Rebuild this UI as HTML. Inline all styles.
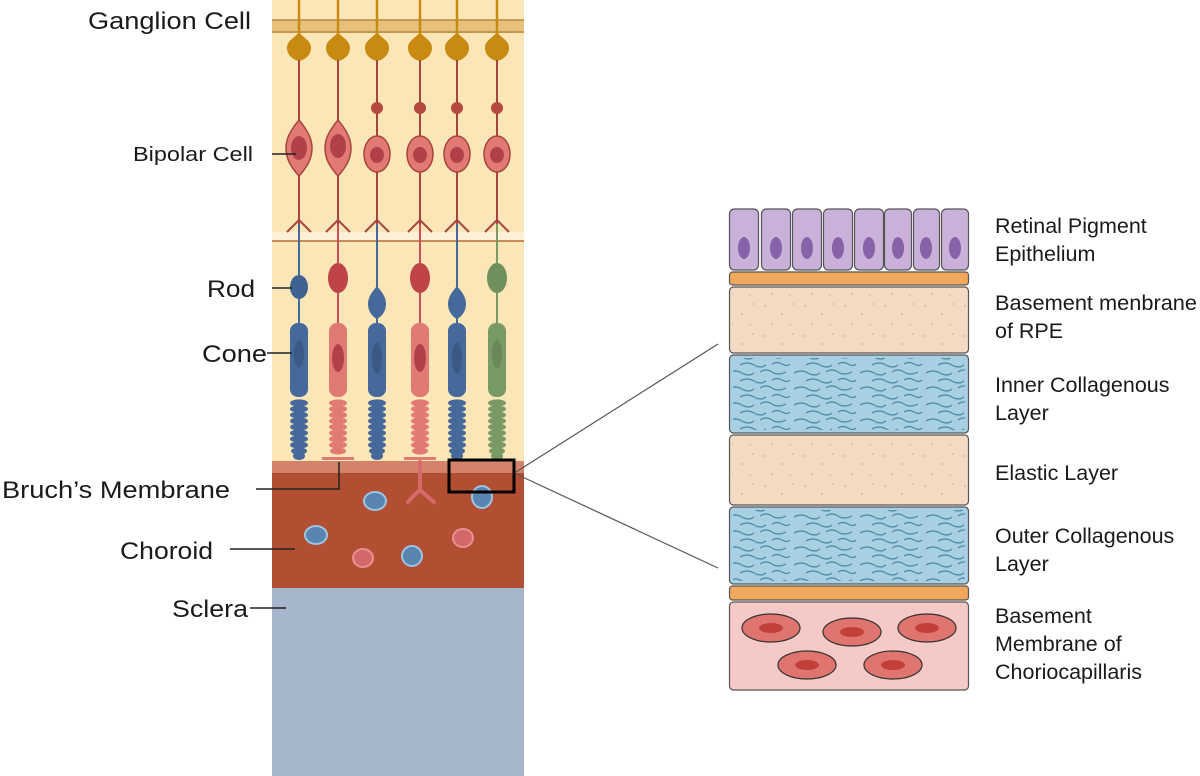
<!DOCTYPE html>
<html><head><meta charset="utf-8"><style>
html,body{margin:0;padding:0;background:#fff;}
svg{display:block;}
text{font-family:"Liberation Sans",Arial,sans-serif;fill:#1a1a1a;}
</style></head><body>
<svg width="1200" height="776" viewBox="0 0 1200 776" xmlns="http://www.w3.org/2000/svg">
<defs>
<pattern id="dots" width="40" height="30" patternUnits="userSpaceOnUse">
<circle cx="5" cy="6" r="1" fill="#d9b8a4"/><circle cx="22" cy="14" r="1" fill="#d9b8a4"/><circle cx="33" cy="4" r="0.9" fill="#d9b8a4"/><circle cx="12" cy="24" r="1" fill="#d9b8a4"/><circle cx="30" cy="25" r="0.9" fill="#d9b8a4"/>
</pattern>
<pattern id="waves" width="66" height="16" patternUnits="userSpaceOnUse">
<path d="M2 5 q7 -4 14 0 t12 0" stroke="#4689a6" stroke-width="1.2" fill="none"/>
<path d="M34 4 q6 -4 12 0 t14 0" stroke="#4689a6" stroke-width="1.2" fill="none"/>
<path d="M14 13 q7 -4 14 0 t12 0" stroke="#4689a6" stroke-width="1.2" fill="none"/>
<path d="M46 12 q5 -3 10 0 t8 0" stroke="#4689a6" stroke-width="1.2" fill="none"/>
</pattern>
</defs>

<rect x="272" y="0" width="252" height="462" fill="#fbe6b8"/>
<rect x="272" y="20" width="252" height="13" fill="#e8c27c"/>
<line x1="272" y1="20" x2="524" y2="20" stroke="#b88a3c" stroke-width="1.5"/>
<line x1="272" y1="32" x2="524" y2="32" stroke="#b88a3c" stroke-width="1.5"/>
<rect x="272" y="232" width="252" height="8" fill="#fdf0d6"/>
<line x1="272" y1="241" x2="524" y2="241" stroke="#b96a3a" stroke-width="1.5"/>
<rect x="272" y="461" width="252" height="12" fill="#d4826a"/>
<rect x="272" y="473" width="252" height="116" fill="#b24e32"/>
<rect x="272" y="588" width="252" height="188" fill="#a6b7cb"/>

<g stroke-width="2">
<ellipse cx="375" cy="501" rx="11" ry="9" fill="#5a85b0" stroke="#9cc4e4"/>
<ellipse cx="316" cy="535" rx="11" ry="9" fill="#5a85b0" stroke="#9cc4e4"/>
<ellipse cx="412" cy="556" rx="10" ry="10" fill="#5a85b0" stroke="#9cc4e4"/>
<ellipse cx="482" cy="497" rx="10" ry="11" fill="#5a85b0" stroke="#9cc4e4"/>
<ellipse cx="363" cy="558" rx="10" ry="9" fill="#d4676a" stroke="#e79090"/>
<ellipse cx="463" cy="538" rx="10" ry="9" fill="#d4676a" stroke="#e79090"/>
</g>
<path d="M420 462 V490 M420 490 Q412 497 408 502 M420 490 Q428 497 434 502" stroke="#d56a6a" stroke-width="4" fill="none" stroke-linecap="round"/>

<g fill="#c98a12" stroke="#c98a12">
<g stroke-width="2.5"><line x1="299" y1="0" x2="299" y2="40"/><line x1="338" y1="0" x2="338" y2="40"/><line x1="377" y1="0" x2="377" y2="40"/><line x1="420" y1="0" x2="420" y2="40"/><line x1="457" y1="0" x2="457" y2="40"/><line x1="497" y1="0" x2="497" y2="40"/></g>
<g stroke-width="0">
<path d="M299 32 C303 38 311 40 311 48 C311 55 305 60 299 61 C293 60 287 55 287 48 C287 40 295 38 299 32Z"/>
<path d="M338 32 C342 38 350 40 350 48 C350 55 344 60 338 61 C332 60 326 55 326 48 C326 40 334 38 338 32Z"/>
<path d="M377 32 C381 38 389 40 389 48 C389 55 383 60 377 61 C371 60 365 55 365 48 C365 40 373 38 377 32Z"/>
<path d="M420 32 C424 38 432 40 432 48 C432 55 426 60 420 61 C414 60 408 55 408 48 C408 40 416 38 420 32Z"/>
<path d="M457 32 C461 38 469 40 469 48 C469 55 463 60 457 61 C451 60 445 55 445 48 C445 40 453 38 457 32Z"/>
<path d="M497 32 C501 38 509 40 509 48 C509 55 503 60 497 61 C491 60 485 55 485 48 C485 40 493 38 497 32Z"/>
</g></g>

<g stroke="#a8443e" stroke-width="2" fill="none">
<line x1="299" y1="60" x2="299" y2="224"/><line x1="338" y1="60" x2="338" y2="224"/><line x1="377" y1="60" x2="377" y2="224"/><line x1="420" y1="60" x2="420" y2="224"/><line x1="457" y1="60" x2="457" y2="224"/><line x1="497" y1="60" x2="497" y2="224"/>
<path d="M287 232 L299 220 L311 232 M326 232 L338 220 L350 232 M365 232 L377 220 L389 232 M408 232 L420 220 L432 232 M445 232 L457 220 L469 232 M485 232 L497 220 L509 232"/>
</g>
<g fill="#b5483f"><circle cx="377" cy="108" r="6"/><circle cx="420" cy="108" r="6"/><circle cx="457" cy="108" r="6"/><circle cx="497" cy="108" r="6"/></g>
<g fill="#e07a72" stroke="#a8443e" stroke-width="1.5">
<path d="M299 120 C309 132 312 140 312 148 C312 158 308 166 299 176 C290 166 286 158 286 148 C286 140 289 132 299 120Z"/>
<path d="M338 120 C348 132 351 140 351 148 C351 158 347 166 338 176 C329 166 325 158 325 148 C325 140 328 132 338 120Z"/>
<ellipse cx="377" cy="154" rx="13" ry="18"/><ellipse cx="420" cy="154" rx="13" ry="18"/><ellipse cx="457" cy="154" rx="13" ry="18"/><ellipse cx="497" cy="154" rx="13" ry="18"/>
</g>
<g fill="#b2404a">
<ellipse cx="299" cy="148" rx="8" ry="12"/><ellipse cx="338" cy="146" rx="8" ry="12"/>
<ellipse cx="377" cy="155" rx="7" ry="8"/><ellipse cx="420" cy="155" rx="7" ry="8"/><ellipse cx="457" cy="155" rx="7" ry="8"/><ellipse cx="497" cy="155" rx="7" ry="8"/>
</g>

<g stroke-width="2">
<line x1="299" y1="224" x2="299" y2="330" stroke="#45699a"/>
<line x1="338" y1="224" x2="338" y2="330" stroke="#c9505a"/>
<line x1="377" y1="224" x2="377" y2="330" stroke="#45699a"/>
<line x1="420" y1="224" x2="420" y2="330" stroke="#c9505a"/>
<line x1="457" y1="224" x2="457" y2="330" stroke="#45699a"/>
<line x1="497" y1="224" x2="497" y2="330" stroke="#7a9a65"/>
</g>
<ellipse cx="299" cy="287" rx="9" ry="12" fill="#3f6290"/>
<ellipse cx="338" cy="278" rx="10" ry="15" fill="#bf4448"/>
<ellipse cx="420" cy="278" rx="10" ry="15" fill="#bf4448"/>
<ellipse cx="497" cy="278" rx="10" ry="15" fill="#6f8f5c"/>
<path d="M377 286 C382 292 386 297 386 304 C386 312 381 317 377 319 C373 317 368 312 368 304 C368 297 372 292 377 286Z" fill="#45699a"/>
<path d="M457 286 C462 292 466 297 466 304 C466 312 461 317 457 319 C453 317 448 312 448 304 C448 297 452 292 457 286Z" fill="#45699a"/>

<g>
<rect x="290" y="323" width="18" height="74" rx="8" fill="#45699a"/><ellipse cx="299" cy="354" rx="5" ry="14" fill="#3a5a85"/>
<rect x="329" y="323" width="18" height="74" rx="8" fill="#e07a72"/><ellipse cx="338" cy="358" rx="6" ry="14" fill="#b2404a"/>
<rect x="368" y="323" width="18" height="74" rx="8" fill="#45699a"/><ellipse cx="377" cy="358" rx="5" ry="16" fill="#3a5a85"/>
<rect x="411" y="323" width="18" height="74" rx="8" fill="#e07a72"/><ellipse cx="420" cy="358" rx="6" ry="14" fill="#b2404a"/>
<rect x="448" y="323" width="18" height="74" rx="8" fill="#45699a"/><ellipse cx="457" cy="358" rx="5" ry="16" fill="#3a5a85"/>
<rect x="488" y="323" width="18" height="74" rx="8" fill="#7a9a65"/><ellipse cx="497" cy="354" rx="5" ry="14" fill="#6a8757"/>
</g>
<g fill="#45699a">
<ellipse cx="299" cy="403" rx="9" ry="3.6"/><ellipse cx="299" cy="409" rx="9" ry="3.6"/><ellipse cx="299" cy="415" rx="9" ry="3.6"/><ellipse cx="299" cy="421" rx="9" ry="3.6"/><ellipse cx="299" cy="427" rx="9" ry="3.6"/><ellipse cx="299" cy="433" rx="9" ry="3.6"/><ellipse cx="299" cy="439" rx="9" ry="3.6"/><ellipse cx="299" cy="445" rx="9" ry="3.6"/><ellipse cx="299" cy="451" rx="8" ry="3.6"/><ellipse cx="299" cy="456" rx="6" ry="4"/>
<ellipse cx="377" cy="403" rx="9" ry="3.6"/><ellipse cx="377" cy="409" rx="9" ry="3.6"/><ellipse cx="377" cy="415" rx="9" ry="3.6"/><ellipse cx="377" cy="421" rx="9" ry="3.6"/><ellipse cx="377" cy="427" rx="9" ry="3.6"/><ellipse cx="377" cy="433" rx="9" ry="3.6"/><ellipse cx="377" cy="439" rx="9" ry="3.6"/><ellipse cx="377" cy="445" rx="9" ry="3.6"/><ellipse cx="377" cy="451" rx="8" ry="3.6"/><ellipse cx="377" cy="456" rx="6" ry="4"/>
<ellipse cx="457" cy="403" rx="9" ry="3.6"/><ellipse cx="457" cy="409" rx="9" ry="3.6"/><ellipse cx="457" cy="415" rx="9" ry="3.6"/><ellipse cx="457" cy="421" rx="9" ry="3.6"/><ellipse cx="457" cy="427" rx="9" ry="3.6"/><ellipse cx="457" cy="433" rx="9" ry="3.6"/><ellipse cx="457" cy="439" rx="9" ry="3.6"/><ellipse cx="457" cy="445" rx="9" ry="3.6"/><ellipse cx="457" cy="451" rx="8" ry="3.6"/><ellipse cx="457" cy="456" rx="6" ry="4"/>
</g>
<g fill="#e07a72">
<ellipse cx="338" cy="403" rx="9" ry="3.6"/><ellipse cx="338" cy="409" rx="9" ry="3.6"/><ellipse cx="338" cy="415" rx="9" ry="3.6"/><ellipse cx="338" cy="421" rx="9" ry="3.6"/><ellipse cx="338" cy="427" rx="9" ry="3.6"/><ellipse cx="338" cy="433" rx="9" ry="3.6"/><ellipse cx="338" cy="439" rx="9" ry="3.6"/><ellipse cx="338" cy="445" rx="9" ry="3.6"/><ellipse cx="338" cy="451" rx="8" ry="3.6"/><rect x="322" y="457" width="32" height="3"/>
<ellipse cx="420" cy="403" rx="9" ry="3.6"/><ellipse cx="420" cy="409" rx="9" ry="3.6"/><ellipse cx="420" cy="415" rx="9" ry="3.6"/><ellipse cx="420" cy="421" rx="9" ry="3.6"/><ellipse cx="420" cy="427" rx="9" ry="3.6"/><ellipse cx="420" cy="433" rx="9" ry="3.6"/><ellipse cx="420" cy="439" rx="9" ry="3.6"/><ellipse cx="420" cy="445" rx="9" ry="3.6"/><ellipse cx="420" cy="451" rx="8" ry="3.6"/><rect x="404" y="457" width="32" height="3"/>
</g>
<g fill="#7a9a65">
<ellipse cx="497" cy="403" rx="9" ry="3.6"/><ellipse cx="497" cy="409" rx="9" ry="3.6"/><ellipse cx="497" cy="415" rx="9" ry="3.6"/><ellipse cx="497" cy="421" rx="9" ry="3.6"/><ellipse cx="497" cy="427" rx="9" ry="3.6"/><ellipse cx="497" cy="433" rx="9" ry="3.6"/><ellipse cx="497" cy="439" rx="9" ry="3.6"/><ellipse cx="497" cy="445" rx="9" ry="3.6"/><ellipse cx="497" cy="451" rx="8" ry="3.6"/><ellipse cx="497" cy="456" rx="6" ry="4"/>
</g>

<rect x="449" y="460" width="65" height="32" fill="none" stroke="#000" stroke-width="3"/>
<line x1="516" y1="472" x2="718" y2="344" stroke="#555" stroke-width="1.2"/>
<line x1="516" y1="474" x2="718" y2="568" stroke="#555" stroke-width="1.2"/>

<g stroke="#222" stroke-width="1.5" fill="none">
<line x1="272" y1="154" x2="296" y2="154"/>
<line x1="272" y1="288" x2="292" y2="288"/>
<line x1="267" y1="353" x2="292" y2="353"/>
<path d="M256 489 H339 V462"/>
<line x1="230" y1="549" x2="295" y2="549"/>
<line x1="250" y1="608" x2="286" y2="608"/>
</g>

<text x="88" y="29" font-size="24" textLength="163" lengthAdjust="spacingAndGlyphs">Ganglion Cell</text>
<text x="133" y="161" font-size="20" textLength="120" lengthAdjust="spacingAndGlyphs">Bipolar Cell</text>
<text x="207" y="297" font-size="24" textLength="48" lengthAdjust="spacingAndGlyphs">Rod</text>
<text x="202" y="362" font-size="24" textLength="65" lengthAdjust="spacingAndGlyphs">Cone</text>
<text x="2" y="498" font-size="24" textLength="228" lengthAdjust="spacingAndGlyphs">Bruch’s Membrane</text>
<text x="120" y="559" font-size="24" textLength="93" lengthAdjust="spacingAndGlyphs">Choroid</text>
<text x="172" y="617" font-size="24" textLength="76" lengthAdjust="spacingAndGlyphs">Sclera</text>

<g stroke="#555" stroke-width="1.2">
<rect x="729.5" y="209" width="29" height="61" rx="5" fill="#c9b1d9"/>
<rect x="761.5" y="209" width="29" height="61" rx="5" fill="#c9b1d9"/>
<rect x="792.5" y="209" width="29" height="61" rx="5" fill="#c9b1d9"/>
<rect x="823.5" y="209" width="29" height="61" rx="5" fill="#c9b1d9"/>
<rect x="854.5" y="209" width="29" height="61" rx="5" fill="#c9b1d9"/>
<rect x="884.5" y="209" width="27" height="61" rx="5" fill="#c9b1d9"/>
<rect x="913.5" y="209" width="26" height="61" rx="5" fill="#c9b1d9"/>
<rect x="941.5" y="209" width="27" height="61" rx="5" fill="#c9b1d9"/>
</g>
<g fill="#8663a8">
<ellipse cx="744" cy="248" rx="6" ry="11"/><ellipse cx="776" cy="248" rx="6" ry="11"/><ellipse cx="807" cy="248" rx="6" ry="11"/><ellipse cx="838" cy="248" rx="6" ry="11"/><ellipse cx="869" cy="248" rx="6" ry="11"/><ellipse cx="898" cy="248" rx="6" ry="11"/><ellipse cx="926" cy="248" rx="6" ry="11"/><ellipse cx="955" cy="248" rx="6" ry="11"/>
</g>
<g stroke="#555" stroke-width="1.2">
<rect x="729.5" y="272" width="239" height="13" rx="3" fill="#f0a85c"/>
<rect x="729.5" y="287" width="239" height="66" rx="4" fill="#f4d9c3"/>
<rect x="729.5" y="355" width="239" height="78" rx="4" fill="#a9cfe3"/>
<rect x="729.5" y="435" width="239" height="70" rx="4" fill="#f4d9c3"/>
<rect x="729.5" y="507" width="239" height="77" rx="4" fill="#a9cfe3"/>
<rect x="729.5" y="586" width="239" height="14" rx="3" fill="#f0a85c"/>
<rect x="729.5" y="602" width="239" height="88" rx="4" fill="#f5c9c6"/>
</g>
<rect x="732" y="290" width="234" height="60" fill="url(#dots)"/>
<rect x="732" y="440" width="234" height="62" fill="url(#dots)"/>
<rect x="733" y="358" width="232" height="72" fill="url(#waves)"/>
<rect x="733" y="510" width="232" height="71" fill="url(#waves)"/>
<g fill="#e07570" stroke="#333" stroke-width="1.2">
<ellipse cx="771" cy="628" rx="29" ry="14"/><ellipse cx="852" cy="632" rx="29" ry="14"/><ellipse cx="927" cy="628" rx="29" ry="14"/>
<ellipse cx="807" cy="665" rx="29" ry="14"/><ellipse cx="893" cy="665" rx="29" ry="14"/>
</g>
<g fill="#c23f3a">
<ellipse cx="771" cy="628" rx="12" ry="5"/><ellipse cx="852" cy="632" rx="12" ry="5"/><ellipse cx="927" cy="628" rx="12" ry="5"/>
<ellipse cx="807" cy="665" rx="12" ry="5"/><ellipse cx="893" cy="665" rx="12" ry="5"/>
</g>

<g font-size="21.5">
<text x="995" y="233">Retinal Pigment</text><text x="995" y="261">Epithelium</text>
<text x="995" y="310" textLength="202" lengthAdjust="spacingAndGlyphs">Basement menbrane</text><text x="995" y="338">of RPE</text>
<text x="995" y="392">Inner Collagenous</text><text x="995" y="420">Layer</text>
<text x="995" y="480">Elastic Layer</text>
<text x="995" y="543">Outer Collagenous</text><text x="995" y="571">Layer</text>
<text x="995" y="623">Basement</text><text x="995" y="651">Membrane of</text><text x="995" y="679">Choriocapillaris</text>
</g>
</svg>
</body></html>
